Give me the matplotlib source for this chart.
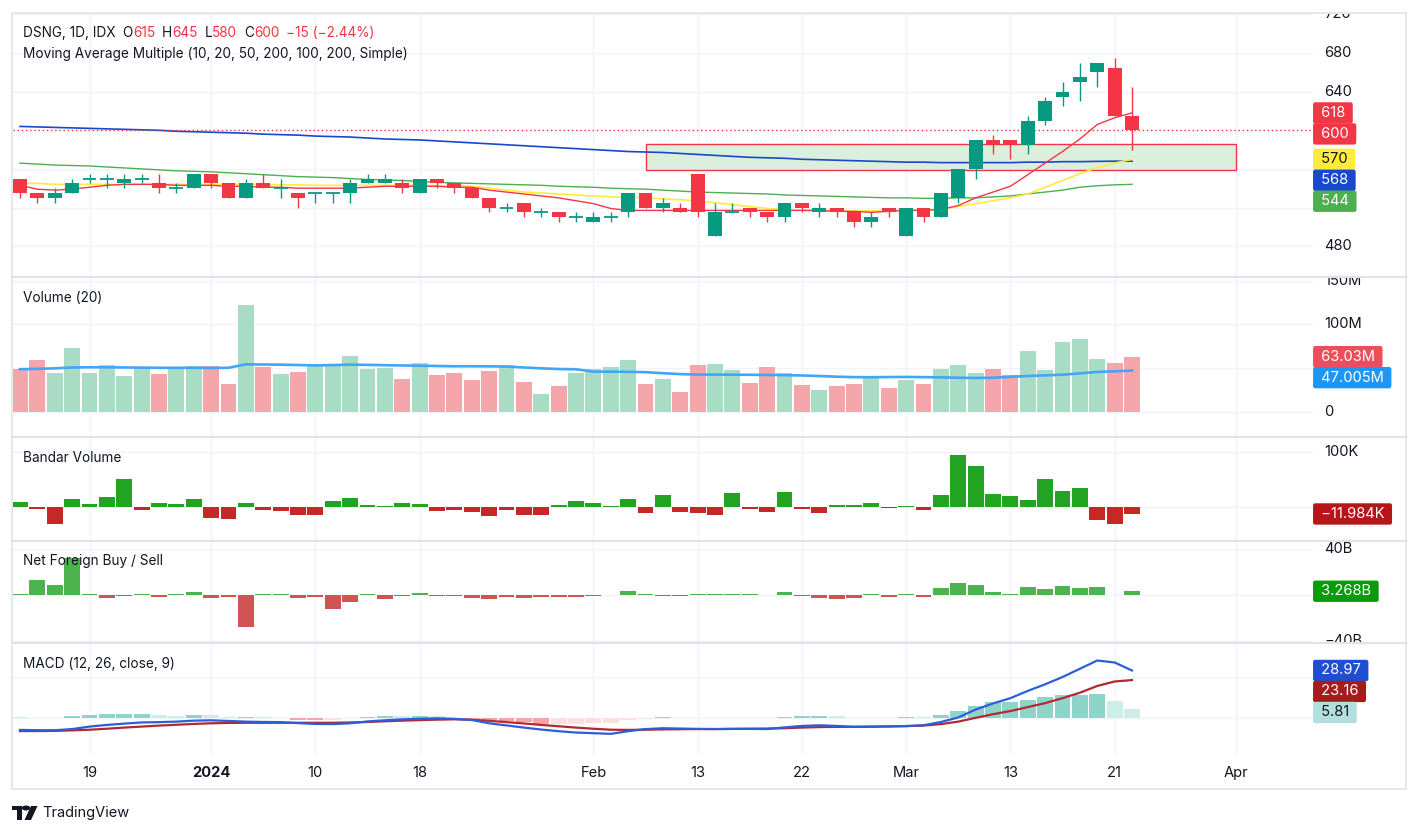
import numpy as np
import matplotlib
matplotlib.use("Agg")
import matplotlib.pyplot as plt
from matplotlib.patches import Rectangle, Polygon, Circle
from matplotlib.lines import Line2D

plt.rcParams['font.family'] = ['Inter', 'DejaVu Sans']

# ---------------- data ----------------
dates = ['2023-12-13', '2023-12-14', '2023-12-15', '2023-12-18', '2023-12-19', '2023-12-20',
         '2023-12-21', '2023-12-22', '2023-12-27', '2023-12-28', '2023-12-29',
         '2024-01-02', '2024-01-03', '2024-01-04', '2024-01-05', '2024-01-08', '2024-01-09',
         '2024-01-10', '2024-01-11', '2024-01-12', '2024-01-15', '2024-01-16', '2024-01-17',
         '2024-01-18', '2024-01-19', '2024-01-22', '2024-01-23', '2024-01-24', '2024-01-25',
         '2024-01-26', '2024-01-29', '2024-01-30', '2024-01-31',
         '2024-02-01', '2024-02-02', '2024-02-05', '2024-02-06', '2024-02-07', '2024-02-12',
         '2024-02-13', '2024-02-15', '2024-02-16', '2024-02-19', '2024-02-20', '2024-02-21',
         '2024-02-22', '2024-02-23', '2024-02-26', '2024-02-27', '2024-02-28', '2024-02-29',
         '2024-03-01', '2024-03-04', '2024-03-05', '2024-03-06', '2024-03-07', '2024-03-08',
         '2024-03-13', '2024-03-14', '2024-03-15', '2024-03-18', '2024-03-19', '2024-03-20',
         '2024-03-21', '2024-03-22']
future_dates = ['2024-03-25', '2024-03-26', '2024-03-27', '2024-03-28', '2024-03-29', '2024-04-01']

tick_dates = ['2023-12-19', '2024-01-02', '2024-01-10', '2024-01-18', '2024-02-01', '2024-02-13',
              '2024-02-22', '2024-03-01', '2024-03-13', '2024-03-21', '2024-04-01']
tick_labels = ['19', '2024', '10', '18', 'Feb', '13', '22', 'Mar', '13', '21', 'Apr']

opens = [550, 535, 530, 535, 550, 550, 545, 550, 545, 540, 540, 555, 545, 530, 545, 540, 535, 535,
         535, 535, 545, 545, 545, 535, 550, 545, 540, 530, 520, 525, 515, 515, 510, 505, 510, 515,
         535, 520, 520, 555, 490, 515, 520, 515, 510, 525, 515, 520, 515, 505, 520, 490, 520, 510,
         530, 560, 590, 590, 585, 610, 635, 650, 660, 665, 615]
highs = [550, 535, 540, 550, 555, 555, 555, 555, 555, 545, 555, 555, 545, 550, 555, 550, 535, 535,
         535, 550, 555, 555, 550, 550, 550, 545, 540, 530, 525, 525, 520, 515, 515, 515, 515, 535,
         535, 530, 525, 555, 525, 525, 520, 515, 525, 525, 525, 520, 515, 515, 520, 520, 520, 535,
         560, 590, 595, 590, 615, 635, 650, 670, 670, 675, 645]
lows = [530, 525, 525, 535, 545, 540, 540, 545, 535, 535, 540, 540, 530, 530, 540, 530, 520, 525,
        525, 525, 545, 545, 535, 535, 540, 535, 530, 515, 515, 510, 510, 505, 505, 505, 505, 510,
        520, 515, 515, 510, 490, 515, 510, 505, 505, 515, 510, 510, 500, 500, 510, 490, 505, 510,
        525, 550, 575, 570, 575, 605, 625, 630, 645, 615, 580]
closes = [535, 530, 535, 545, 550, 550, 550, 550, 540, 540, 555, 545, 530, 545, 540, 540, 530, 535,
          535, 545, 550, 550, 540, 550, 545, 540, 530, 520, 520, 515, 515, 510, 510, 510, 510, 535,
          520, 525, 515, 515, 515, 515, 515, 510, 525, 520, 520, 515, 505, 510, 515, 520, 510, 535,
          560, 590, 585, 585, 610, 630, 640, 655, 670, 615, 600]

ma10 = [543, 539, 538, 539, 541, 543, 544, 544, 544, 543, 543, 543, 542, 542, 541, 541, 540, 540,
        540, 540, 541, 542, 542, 542, 542, 541, 541, 538, 536, 534, 532, 530, 527, 524, 519, 517,
        517, 517, 517, 517, 517, 517, 517, 517, 517, 517, 517, 516, 516, 515, 516, 517, 517, 518,
        522, 530, 536, 542, 554, 566, 578, 591, 606, 613, 618]
ma20 = [545, 545, 544, 544, 544, 544, 544, 544, 544, 544, 544, 544, 544, 544, 544, 543.5, 543.5,
        543, 543, 543, 543, 543, 543, 543, 542.5, 542.5, 542, 540, 538, 536, 535, 534, 533, 532,
        531, 530.5, 530, 529, 528, 527, 525, 523, 521, 519, 518, 517, 517, 516.5, 516.5, 516.5,
        517, 517, 517.5, 518, 521, 524, 527, 530, 534, 541, 548, 555, 561.5, 566, 570]
ma50 = [566, 565, 564, 563.5, 563, 562, 561, 560, 559, 558, 557.5, 557, 556, 555, 554, 553, 552,
        551.5, 551, 550, 549, 548.5, 548, 547, 546, 545.5, 545, 544.5, 544, 543.5, 543, 542, 541.5,
        541, 540, 539.5, 539, 538, 537, 536, 535.5, 535, 534.5, 534, 533, 532.5, 532, 531.5, 531,
        530.5, 530, 530, 529.5, 529.5, 530, 530, 531, 532, 534, 536, 538, 541, 542.5, 543.5, 544]
ma200 = [604, 603.5, 603, 602.5, 602, 601.5, 601, 600.5, 600, 599, 598.5, 598, 597.5, 597, 596,
         595.5, 595, 594, 593.5, 593, 592, 591, 590.5, 590, 589, 588, 587, 586, 585, 584, 583, 582,
         581, 580, 579, 578, 577.5, 577, 576, 575, 574, 573, 572, 571.5, 571, 570, 569.5, 569,
         568.5, 568, 567.5, 567, 567, 566.5, 566.5, 566.5, 566.5, 566.5, 567, 567, 567.5, 567.5,
         567.8, 568, 568]

volume_m = [48.5, 58.8, 43.9, 72.5, 43.9, 53.0, 40.5, 49.2, 42.7, 50.8, 51.9, 51.9, 31.3, 122.9,
            50.8, 42.7, 45.0, 51.9, 51.9, 63.4, 48.5, 49.6, 37.0, 55.3, 41.6, 43.9, 35.9, 46.2,
            53.0, 33.6, 19.8, 29.0, 43.9, 48.5, 50.8, 58.8, 31.3, 37.0, 22.1, 53.0, 54.2, 47.3,
            32.4, 50.8, 43.9, 30.2, 24.4, 29.0, 31.3, 40.5, 26.7, 35.9, 31.3, 48.5, 53.0, 43.9,
            48.5, 41.6, 69.1, 47.3, 79.4, 82.8, 59.9, 55.3, 63.03]
volume_ma_m = [48.6, 49.0, 49.6, 50.6, 50.8, 50.8, 50.6, 50.4, 50.2, 50.2, 50.2, 50.0, 50.2, 54.2,
               54.0, 53.8, 53.4, 53.0, 53.4, 53.8, 53.6, 53.2, 52.9, 52.6, 52.3, 52.0, 52.0, 51.9,
               51.6, 50.6, 49.6, 48.8, 48.5, 45.8, 45.8, 45.6, 45.2, 44.0, 43.0, 42.4, 42.4, 42.3,
               42.2, 42.0, 41.8, 41.4, 40.8, 40.0, 39.5, 39.4, 39.6, 39.7, 39.5, 39.2, 38.8, 38.5,
               38.8, 39.8, 40.8, 41.5, 42.3, 43.8, 45.5, 46.2, 47.005]

bandar_k = [9.6, -3, -30, 15, 6, 18.6, 51, -4.8, 7.8, 6, 15, -19, -21, 7.8, -4.8, -6.6, -13.8,
            -13.8, 11.4, 16.8, 4.2, 2.4, 7.8, 6, -6.6, -4.8, -8.4, -15.6, -4.8, -13.8, -13.8, 4.2,
            11.4, 7.8, 2.4, 15, -10.2, 22, -8.4, -10.2, -13.8, 25.7, -3, -8.4, 27.5, -3, -10.2,
            4.2, 4.2, 7.8, -1.2, 2.4, -4.8, 22, 94, 74, 24, 20, 13, 51, 29, 35, -22.8, -30, -11.984]

foreign_b = [0.9, 13.1, 8.8, 32.4, 0.9, -2.3, -0.9, 0.9, -1.5, 0.9, 2.6, -2.3, -1.5, -27.7, 0.9,
             0.9, -2.3, -1.5, -12.0, -5.8, 0.9, -3.2, -0.6, 1.8, -0.6, -0.6, -2.3, -3.2, -1.5,
             -2.3, -1.5, -1.5, -1.5, -0.6, 0.3, 3.5, 0.5, -0.6, -0.6, 0.9, 0.9, 0.9, 0.9, 0.3, 2.6,
             -0.6, -2.3, -3.2, -2.3, 0.9, -1.5, 0.9, -1.5, 6.1, 10.5, 8.8, 2.6, 0.9, 7.0, 5.3, 7.9,
             6.1, 7.0, 0.2, 3.268]

macd = [-7.0, -7.2, -7.2, -6.5, -5.0, -4.0, -3.2, -2.5, -2.3, -2.0, -1.4, -1.2, -1.6, -2.0, -2.2,
        -2.3, -2.9, -3.4, -3.5, -3.0, -1.9, -1.2, -0.6, -0.3, 0.0, -0.3, -1.0, -3.0, -4.3, -5.6,
        -6.8, -7.8, -8.6, -9.0, -9.4, -7.8, -6.5, -6.0, -6.2, -6.4, -6.5, -6.4, -6.4, -6.5, -5.5,
        -4.6, -4.2, -4.6, -5.2, -5.1, -4.9, -4.7, -4.2, -2.2, 0.5, 5.3, 9.0, 12.2, 16.6, 20.6,
        25.0, 30.0, 35.0, 33.8, 28.97]
signal = [-7.7, -7.7, -7.6, -7.3, -6.9, -6.3, -5.6, -5.0, -4.4, -3.9, -3.4, -3.0, -2.8, -2.7, -2.7,
          -2.7, -2.7, -2.7, -2.7, -2.5, -2.2, -1.8, -1.4, -1.1, -0.8, -0.6, -0.9, -1.5, -2.3, -3.1,
          -4.0, -4.8, -5.6, -6.3, -6.9, -7.0, -6.9, -6.7, -6.6, -6.5, -6.5, -6.4, -6.3, -6.2, -6.0,
          -5.6, -5.3, -5.2, -5.1, -5.0, -4.9, -4.7, -4.4, -3.5, -2.0, 0.3, 2.5, 4.4, 6.8, 9.2,
          12.2, 15.5, 19.6, 22.3, 23.16]
hist = [0.6, 0.2, 0.4, 1.5, 2.3, 2.7, 2.8, 2.9, 1.9, 1.5, 2.1, 2.0, 0.6, 0.8, 0.6, 0.1, -1.0, -1.1,
        -1.0, 0.2, 0.8, 1.5, 1.25, 1.5, 1.25, 0.2, -1.0, -1.25, -1.7, -2.3, -3.6, -3.5, -3.3, -2.9,
        -2.7, -1.0, -0.4, 0.8, 0.2, 0.15, 0.1, 0.4, 0.3, 0.1, 0.8, 1.5, 1.6, 1.2, 0.2, 0.1, 0.2,
        0.8, 0.6, 2.1, 4.6, 7.7, 9.6, 9.8, 10.8, 12.7, 14.0, 14.2, 14.6, 10.2, 5.81]

# support zone drawn on the chart (date range and price band)
zone_from, zone_to = '2024-02-06', '2024-04-01'
zone_low, zone_high = 559, 586

# ---------------- layout ----------------
W, H = 1419, 834
fig = plt.figure(figsize=(W / 100, H / 100), dpi=100)
fig.patch.set_facecolor('white')

L, R, RR = 12.5, 1313, 1406      # pixel edges: plot left, plot right, frame right
X0, STEP = 20, 17.375            # pixel centre of first bar, bar spacing
XMIN, XMAX = (L - X0) / STEP, (R - X0) / STEP
FS = 9.8      # titles / header
FA = 10.6     # price scale, tags, time axis
TAG_H = 21    # tag height in px
TXT = '#131722'
GRID = '#f0f3fa'
BORDER = '#e0e3eb'

all_dates = dates + future_dates
xi = np.arange(len(dates))
tick_x = [all_dates.index(d) for d in tick_dates]
o, h, l, c = map(np.array, (opens, highs, lows, closes))
up = c >= o


def fx(px):
    return px / W


def fy(py):
    return 1 - py / H


def pane(top, bot, ylim, hgrid):
    ax = fig.add_axes([fx(L), fy(bot), fx(R - L), (bot - top) / H])
    ax.set_xlim(XMIN, XMAX)
    ax.set_ylim(*ylim)
    ax.axis('off')
    for t in tick_x:
        ax.axvline(t, color=GRID, lw=1, zorder=0)
    for g in hgrid:
        ax.axhline(g, color=GRID, lw=1, zorder=0)
    lab = fig.add_axes([fx(R), fy(bot), fx(RR - R), (bot - top) / H])
    lab.set_xlim(0, 1)
    lab.set_ylim(*ylim)
    lab.axis('off')
    lab.top, lab.bot = top, bot
    return ax, lab


def to_px(lab, v):
    y0, y1 = lab.get_ylim()
    return lab.top + (y1 - v) * (lab.bot - lab.top) / (y1 - y0)


def tags(lab, items):
    """value tags on the price scale, stacked so they do not overlap; returns occupied px centres"""
    y0, y1 = lab.get_ylim()
    k = (lab.bot - lab.top) / (y1 - y0)
    rows = sorted([(to_px(lab, v), s, fc, tc) for v, s, fc, tc in items])
    last = -1e9
    used = []
    for py, s, fc, tc in rows:
        py = max(py, last + TAG_H)
        last = py
        used.append(py)
        v = y1 - (py - lab.top) / k
        lab.text(0.04, v, ' ' + s + ' ', ha='left', va='center', fontsize=FA, color=tc,
                 bbox=dict(boxstyle='round,pad=0.25,rounding_size=0.15', fc=fc, ec='none'),
                 zorder=5)
    return used


def axis_labels(lab, vals, texts, used):
    # the scale hides labels that sit under a value tag
    for v, s in zip(vals, texts):
        py = to_px(lab, v)
        if any(abs(py - u) < TAG_H / 2 + 2 for u in used):
            continue
        lab.text(0.12, v, s, ha='left', va='center', fontsize=FA, color=TXT, clip_on=True)


def title(py, s):
    fig.text(fx(23), fy(py), s, fontsize=FS, color=TXT, va='center', ha='left')


# ---------------- price pane ----------------
P_TOP, P_BOT, P_LIM = 14, 277, (448, 720.5)
ax, lab = pane(P_TOP, P_BOT, P_LIM, [480, 520, 560, 600, 640, 680, 720])
zx0, zx1 = all_dates.index(zone_from), all_dates.index(zone_to)
ax.add_patch(Rectangle((zx0, zone_low), zx1 - zx0, zone_high - zone_low,
                       fc='#dcefdc', ec='#f23645', lw=1, zorder=1))
ax.plot(xi, ma200, color='#1848cc', lw=1.2, zorder=2)
ax.plot(xi, ma50, color='#4caf50', lw=1, zorder=2)
ax.plot(xi, ma20, color='#ffeb3b', lw=1.2, zorder=2)
ax.plot(xi, ma10, color='#f23645', lw=1, zorder=2)
ccol = np.where(up, '#089981', '#f23645')
ax.vlines(xi, l, h, colors=ccol, lw=1, zorder=3)
ax.bar(xi, np.abs(c - o), bottom=np.minimum(o, c), width=0.8, color=ccol, lw=0, zorder=3)
doji = c == o
ax.hlines(o[doji], xi[doji] - 0.4, xi[doji] + 0.4, colors=ccol[doji], lw=1.3, zorder=3)
ax.axhline(c[-1], color='#f23645', lw=1, ls=(0, (1, 2)), zorder=2)
used = tags(lab, [
    (ma10[-1], f'{ma10[-1]:.0f}', '#f23645', 'white'),
    (c[-1], f'{c[-1]:.0f}', '#f23645', 'white'),
    (ma20[-1], f'{ma20[-1]:.0f}', '#ffeb3b', TXT),
    (ma200[-1], f'{ma200[-1]:.0f}', '#1848cc', 'white'),
    (ma50[-1], f'{ma50[-1]:.0f}', '#4caf50', 'white'),
])
axis_labels(lab, [480, 520, 560, 600, 640, 680, 720],
            ['480', '520', '560', '600', '640', '680', '720'], used)

# header: symbol line with OHLC values in colour
renderer = fig.canvas.get_renderer()
chg = c[-1] - c[-2]
pct = chg / c[-2] * 100
RED = '#f23645'
pieces = [('DSNG, 1D, IDX', TXT, 7), ('O', TXT, 0), (f'{o[-1]}', RED, 7), ('H', TXT, 0),
          (f'{h[-1]}', RED, 7), ('L', TXT, 0), (f'{l[-1]}', RED, 7), ('C', TXT, 0),
          (f'{c[-1]}', RED, 7),
          (f'{chg:+.0f} ({pct:+.2f}%)'.replace('-', '\u2212'), RED, 0)]
xpos = 23
for s, col, gap in pieces:
    t = fig.text(fx(xpos), fy(33), s, fontsize=FS, color=col, va='center', ha='left')
    xpos += t.get_window_extent(renderer).width + gap
title(54, 'Moving Average Multiple (10, 20, 50, 200, 100, 200, Simple)')

# ---------------- volume pane ----------------
V_TOP, V_BOT, V_LIM = 278, 437, (-29.3, 153.4)
axv, labv = pane(V_TOP, V_BOT, V_LIM, [0, 50, 100, 150])
vcol = np.where(up, '#a9dcc4', '#f4a6ab')
axv.bar(xi, volume_m, width=0.92, color=vcol, lw=0, zorder=2)
axv.plot(xi, volume_ma_m, color='#42a5f5', lw=1.9, zorder=3)
used = tags(labv, [
    (volume_m[-1], f'{volume_m[-1]:.2f}M', '#eb505a', 'white'),
    (volume_ma_m[-1], f'{volume_ma_m[-1]:.3f}M', '#1e96f7', 'white'),
])
axis_labels(labv, [0, 50, 100, 150], ['0', '50M', '100M', '150M'], used)
title(298, 'Volume (20)')

# ---------------- bandar volume pane ----------------
B_TOP, B_BOT, B_LIM = 438, 540, (-58.8, 124.6)
axb, labb = pane(B_TOP, B_BOT, B_LIM, [0, 100])
bk = np.array(bandar_k)
axb.bar(xi, bk, width=0.92, color=np.where(bk >= 0, '#22a322', '#c62828'), lw=0, zorder=2)
used = tags(labb, [(bk[-1], f'{bk[-1]:.3f}K'.replace('-', '\u2212'), '#b8151a', 'white')])
axis_labels(labb, [0, 100], ['0', '100K'], used)
title(458, 'Bandar Volume')

# ---------------- net foreign pane ----------------
F_TOP, F_BOT, F_LIM = 541, 642, (-40.9, 47.0)
axf, labf = pane(F_TOP, F_BOT, F_LIM, [-40, 0, 40])
fb = np.array(foreign_b)
axf.bar(xi, fb, width=0.92, color=np.where(fb >= 0, '#4db34f', '#d05454'), lw=0, zorder=2)
used = tags(labf, [(fb[-1], f'{fb[-1]:.3f}B', '#0b9a0b', 'white')])
axis_labels(labf, [40, 0, -40], ['40B', '0', '\u221240B'], used)
title(561, 'Net Foreign Buy / Sell')

# ---------------- MACD pane ----------------
M_TOP, M_BOT, M_LIM = 643, 755, (-22.2, 45.6)
axm, labm = pane(M_TOP, M_BOT, M_LIM, [0, 25])
hs = np.array(hist)
prev = np.concatenate([[hs[0]], hs[:-1]])
hcol = np.where(hs >= 0, np.where(hs > prev, '#8fd4c8', '#cdeee8'),
                np.where(hs < prev, '#f8a3a6', '#fddfe0'))
axm.bar(xi, hs, width=0.92, color=hcol, lw=0, zorder=2)
axm.plot(xi, signal, color='#b22833', lw=1.6, zorder=3)
axm.plot(xi, macd, color='#2b5fd9', lw=1.6, zorder=4)
used = tags(labm, [
    (macd[-1], f'{macd[-1]:.2f}', '#1f4fd1', 'white'),
    (signal[-1], f'{signal[-1]:.2f}', '#a61c1c', 'white'),
    (hs[-1], f'{hs[-1]:.2f}', '#b2dfdb', TXT),
])
axis_labels(labm, [0, 25], ['0.00', '25.00'], used)
title(664, 'MACD (12, 26, close, 9)')

# ---------------- time axis ----------------
for t, s in zip(tick_x, tick_labels):
    px = X0 + t * STEP
    fig.text(fx(px), fy(773), s, fontsize=FA, color=TXT, ha='center', va='center',
             fontweight='bold' if s == '2024' else 'normal')

# ---------------- frame ----------------
fig.add_artist(Rectangle((fx(L - 0.5), fy(789)), fx(RR - L + 0.5), (789 - 13) / H,
                         transform=fig.transFigure, fill=False, ec=BORDER, lw=1.2))
for sep in (277.5, 437.5, 540.5, 642.5):
    fig.add_artist(Line2D([fx(L), fx(RR)], [fy(sep), fy(sep)], transform=fig.transFigure,
                          color=BORDER, lw=1.5))

# TradingView logo
ft = fig.transFigure
fig.add_artist(Rectangle((fx(12), fy(810)), fx(10), 4 / H, transform=ft, color=TXT, lw=0))
fig.add_artist(Rectangle((fx(17), fy(820)), fx(5), 14 / H, transform=ft, color=TXT, lw=0))
fig.add_artist(Circle((fx(26), fy(808)), 2.5 / H, transform=ft, color=TXT, lw=0))
fig.add_artist(Polygon([(fx(31), fy(806)), (fx(37.5), fy(806)), (fx(31), fy(820)), (fx(24.5), fy(820))],
                       transform=ft, color=TXT, lw=0))
fig.text(fx(42), fy(813.5), 'TradingView', fontsize=10.5, color=TXT, va='center', ha='left')

fig.savefig('out.png', dpi=100, facecolor='white')
